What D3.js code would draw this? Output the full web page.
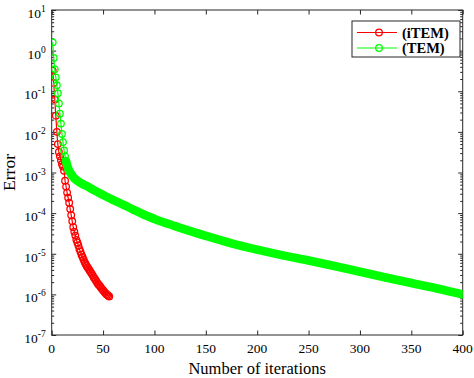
<!DOCTYPE html>
<html>
<head>
<meta charset="utf-8">
<script src="https://cdn.jsdelivr.net/npm/d3@7"></script>
<style>
  body { margin: 0; background: #fff; }
  text { font-family: "Liberation Serif", "Times New Roman", serif; fill: #000; }
</style>
</head>
<body>
<div id="chart"></div>
<script>
// error of iTEM, one value per iteration (1..56)
const itemError = [
  3.2e-1, 1.6e-1, 6.3e-2, 2.5e-2, 1.0e-2, 5.0e-3, 3.2e-3, 2.5e-3, 2.0e-3, 1.6e-3,
  1.4e-3, 1.1e-3, 6.3e-4, 4.5e-4, 3.2e-4, 2.4e-4, 1.8e-4, 1.26e-4, 8.9e-5, 6.3e-5,
  4.5e-5, 3.5e-5, 2.8e-5, 2.2e-5, 1.9e-5, 1.6e-5, 1.3e-5, 1.12e-5, 9.5e-6, 8.3e-6,
  7.2e-6, 6.3e-6, 5.6e-6, 5.0e-6, 4.6e-6, 4.2e-6, 3.8e-6, 3.5e-6, 3.2e-6, 2.9e-6,
  2.6e-6, 2.4e-6, 2.2e-6, 2.0e-6, 1.8e-6, 1.7e-6, 1.58e-6, 1.45e-6, 1.35e-6, 1.26e-6,
  1.17e-6, 1.1e-6, 1.02e-6, 9.8e-7, 9.3e-7, 8.9e-7
];

// error of TEM, read at selected iterations
const temIter = [
  1, 2, 3, 4, 5, 6, 7, 8, 9, 10, 11, 12, 13, 14, 15, 16, 17, 18, 19, 20,
  22, 25, 30, 35, 40, 50, 60, 70, 80, 90, 100, 120, 135, 150, 175, 200,
  225, 250, 275, 300, 325, 350, 375, 400
];
const temError = [
  1.6, 6.6e-1, 3.5e-1, 2.2e-1, 1.4e-1, 8.9e-2, 5.0e-2, 2.8e-2, 1.6e-2, 8.9e-3,
  5.6e-3, 3.5e-3, 2.5e-3, 1.9e-3, 1.5e-3, 1.26e-3, 1.1e-3, 1.0e-3, 9.1e-4, 8.3e-4,
  7.2e-4, 6.3e-4, 5.2e-4, 4.5e-4, 3.8e-4, 2.8e-4, 2.1e-4, 1.6e-4, 1.2e-4, 9.1e-5,
  7.2e-5, 4.8e-5, 3.6e-5, 2.75e-5, 1.8e-5, 1.26e-5,
  9.1e-6, 6.8e-6, 5.0e-6, 3.6e-6, 2.6e-6, 1.9e-6, 1.4e-6, 1.0e-6
];

const xTicks = [0, 50, 100, 150, 200, 250, 300, 350, 400];
const yExponents = [-7, -6, -5, -4, -3, -2, -1, 0, 1];
const seriesNames = ["(iTEM)", "(TEM)"];
const seriesColors = ["#ff0000", "#00ff00"];

const width = 474, height = 378;
const margin = {top: 10, right: 11.3, bottom: 43, left: 51.7};
const w = width - margin.left - margin.right;
const h = height - margin.top - margin.bottom;

const svg = d3.select("#chart").append("svg")
  .attr("width", width)
  .attr("height", height);

const g = svg.append("g")
  .attr("transform", `translate(${margin.left},${margin.top})`);

const x = d3.scaleLinear().domain([0, 400]).range([0, w]);
const y = d3.scaleLog().domain([1e-7, 1e1]).range([h, 0]);

// minor ticks for log axis
const minorTicks = [];
yExponents.slice(0, -1).forEach(e => {
  for (let k = 2; k <= 9; k++) minorTicks.push(k * Math.pow(10, e));
});
const majorTicks = yExponents.map(e => Math.pow(10, e));

const axisColor = "#262626";

function styleAxis(sel) {
  sel.select(".domain").remove();
  sel.selectAll("line").attr("stroke", axisColor).attr("stroke-width", 1);
}

// x ticks bottom and top (inside)
g.append("g").attr("transform", `translate(0,${h})`)
  .call(d3.axisBottom(x).tickValues(xTicks).tickSize(-4.5).tickFormat(""))
  .call(styleAxis);
g.append("g")
  .call(d3.axisTop(x).tickValues(xTicks).tickSize(-4.5).tickFormat(""))
  .call(styleAxis);

// y ticks left and right (inside)
g.append("g")
  .call(d3.axisLeft(y).tickValues(majorTicks).tickSize(-4.5).tickFormat(""))
  .call(styleAxis);
g.append("g")
  .call(d3.axisLeft(y).tickValues(minorTicks).tickSize(-2.5).tickFormat(""))
  .call(styleAxis);
g.append("g").attr("transform", `translate(${w},0)`)
  .call(d3.axisRight(y).tickValues(majorTicks).tickSize(-4.5).tickFormat(""))
  .call(styleAxis);
g.append("g").attr("transform", `translate(${w},0)`)
  .call(d3.axisRight(y).tickValues(minorTicks).tickSize(-2.5).tickFormat(""))
  .call(styleAxis);

// box
g.append("rect")
  .attr("width", w).attr("height", h)
  .attr("fill", "none").attr("stroke", axisColor).attr("stroke-width", 1);

// x tick labels
g.selectAll(".xlab").data(xTicks).enter().append("text")
  .attr("x", d => x(d))
  .attr("y", h + 18)
  .attr("text-anchor", "middle")
  .style("font-size", "13.5px")
  .text(d => d);

// y tick labels 10^n
const yl = g.selectAll(".ylab").data(yExponents).enter().append("text")
  .attr("x", -6)
  .attr("y", d => y(Math.pow(10, d)) + 8)
  .attr("text-anchor", "end")
  .style("font-size", "13.5px");
yl.append("tspan").text("10");
yl.append("tspan").attr("dy", -6).style("font-size", "9.5px").text(d => d);

// axis titles
svg.append("text")
  .attr("x", margin.left + w / 2)
  .attr("y", height - 4)
  .attr("text-anchor", "middle")
  .style("font-size", "16.5px")
  .text("Number of iterations");
svg.append("text")
  .attr("transform", `translate(15,${margin.top + h / 2}) rotate(-90)`)
  .attr("text-anchor", "middle")
  .style("font-size", "17.5px")
  .text("Error");

// clip
svg.append("defs").append("clipPath").attr("id", "clip")
  .append("rect").attr("width", w).attr("height", h);
const plot = g.append("g").attr("clip-path", "url(#clip)");

const line = d3.line().x(d => x(d[0])).y(d => y(d[1])).curve(d3.curveMonotoneX);

// iTEM series
const itemData = itemError.map((v, i) => [i + 1, v]);
plot.append("path").datum(itemData)
  .attr("d", line).attr("fill", "none")
  .attr("stroke", seriesColors[0]).attr("stroke-width", 1.2);
plot.selectAll(".item").data(itemData).enter().append("circle")
  .attr("cx", d => x(d[0])).attr("cy", d => y(d[1]))
  .attr("r", 3.3).attr("fill", "none")
  .attr("stroke", seriesColors[0]).attr("stroke-width", 1.3);

// TEM series
const temData = temIter.map((t, i) => [t, temError[i]]);
// densely overlapping markers form a solid band
plot.append("path").datum(temData.filter(d => d[0] >= 14))
  .attr("d", line).attr("fill", "none")
  .attr("stroke", seriesColors[1]).attr("stroke-width", 8.6)
  .attr("stroke-linecap", "round").attr("stroke-linejoin", "round");
plot.append("path").datum(temData)
  .attr("d", line).attr("fill", "none")
  .attr("stroke", seriesColors[1]).attr("stroke-width", 1.2);
plot.selectAll(".tem").data(temData).enter().append("circle")
  .attr("cx", d => x(d[0])).attr("cy", d => y(d[1]))
  .attr("r", 3.3).attr("fill", "none")
  .attr("stroke", seriesColors[1]).attr("stroke-width", 1.3);

// legend
const lg = svg.append("g").attr("transform", "translate(352,21)");
lg.append("rect")
  .attr("width", 108).attr("height", 36)
  .attr("fill", "#fff").attr("stroke", axisColor).attr("stroke-width", 1);
seriesNames.forEach((name, i) => {
  const yy = 11.5 + i * 15.5;
  lg.append("line")
    .attr("x1", 5).attr("x2", 45).attr("y1", yy).attr("y2", yy)
    .attr("stroke", seriesColors[i]).attr("stroke-width", 1.2);
  lg.append("circle")
    .attr("cx", 27).attr("cy", yy).attr("r", 3.3)
    .attr("fill", "none").attr("stroke", seriesColors[i]).attr("stroke-width", 1.3);
  lg.append("text")
    .attr("x", 50).attr("y", yy + 5)
    .style("font-size", "14.5px").style("font-weight", "bold")
    .text(name);
});
</script>
</body>
</html>
